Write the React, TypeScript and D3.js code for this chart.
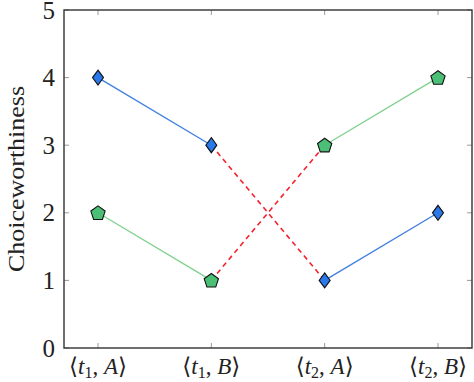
import React from "react";
import * as d3 from "d3";

const categories = [
  { t: "1", s: "A" },
  { t: "1", s: "B" },
  { t: "2", s: "A" },
  { t: "2", s: "B" },
];
const blueValues = [4, 3, 1, 2];
const greenValues = [2, 1, 3, 4];
const yTicks = [0, 1, 2, 3, 4, 5];
const yLabel = "Choiceworthiness";

const W = 474, H = 382;
const L = 64, R = 472, T = 10, B = 348;

export default function App() {
  const x = d3.scaleLinear().domain([-0.3, 3.3]).range([L, R]);
  const y = d3.scaleLinear().domain([0, 5]).range([B, T]);
  const line = d3.line<[number, number]>().x(d => x(d[0])).y(d => y(d[1]));
  const seg = (vals: number[], a: number, b: number) =>
    line([[a, vals[a]], [b, vals[b]]]) as string;
  const font = "'Liberation Serif', 'DejaVu Serif', serif";
  const blueLine = "#3f7fe0", blueFill = "#2a78ea";
  const greenLine = "#7fd18f", greenFill = "#4cbf76";
  const red = "#f5222d";
  const diamond = (cx: number, cy: number) =>
    `M${cx},${cy - 7.5}L${cx + 5.5},${cy}L${cx},${cy + 7.5}L${cx - 5.5},${cy}Z`;
  const pentagon = (cx: number, cy: number) => {
    const r = 7.5;
    const pts = d3.range(5).map(i => {
      const a = -Math.PI / 2 + (i * 2 * Math.PI) / 5;
      return [cx + r * Math.cos(a), cy + 0.6 + r * Math.sin(a)];
    });
    return "M" + pts.map(p => p.join(",")).join("L") + "Z";
  };
  return (
    <svg width={W} height={H} style={{ position: "absolute", left: 0, top: 0, background: "#fff" }}>
      {categories.map((_, i) => (
        <g key={"xt" + i} stroke="#9a9a9a" strokeWidth={1}>
          <line x1={x(i)} x2={x(i)} y1={B} y2={B - 5} />
          <line x1={x(i)} x2={x(i)} y1={T} y2={T + 5} />
        </g>
      ))}
      {yTicks.map(v => (
        <g key={"yt" + v} stroke="#9a9a9a" strokeWidth={1}>
          <line x1={L} x2={L + 5} y1={y(v)} y2={y(v)} />
          <line x1={R} x2={R - 5} y1={y(v)} y2={y(v)} />
        </g>
      ))}
      <path d={seg(blueValues, 0, 1)} stroke={blueLine} strokeWidth={1.3} fill="none" />
      <path d={seg(blueValues, 2, 3)} stroke={blueLine} strokeWidth={1.3} fill="none" />
      <path d={seg(greenValues, 0, 1)} stroke={greenLine} strokeWidth={1.3} fill="none" />
      <path d={seg(greenValues, 2, 3)} stroke={greenLine} strokeWidth={1.3} fill="none" />
      <path d={seg(blueValues, 1, 2)} stroke={red} strokeWidth={1.6} strokeDasharray="5,4" fill="none" />
      <path d={seg(greenValues, 1, 2)} stroke={red} strokeWidth={1.6} strokeDasharray="5,4" fill="none" />
      {blueValues.map((v, i) => (
        <path key={"b" + i} d={diamond(x(i), y(v))} fill={blueFill} stroke="#111" strokeWidth={1.1} />
      ))}
      {greenValues.map((v, i) => (
        <path key={"g" + i} d={pentagon(x(i), y(v))} fill={greenFill} stroke="#111" strokeWidth={1.1} />
      ))}
      <rect x={L} y={T} width={R - L} height={B - T} fill="none" stroke="#333" strokeWidth={1.4} />
      {yTicks.map(v => (
        <text key={"yl" + v} x={55} y={y(v) + 8.5} textAnchor="end" fontFamily={font} fontSize={25} fill="#222">
          {v}
        </text>
      ))}
      {categories.map((c, i) => (
        <text key={"xl" + i} x={x(i)} y={374} textAnchor="middle" fontFamily={font} fontSize={23} fill="#222">
          <tspan>⟨</tspan>
          <tspan fontStyle="italic">t</tspan>
          <tspan fontSize={16} dy={4}>{c.t}</tspan>
          <tspan dy={-4}>, </tspan>
          <tspan fontStyle="italic">{c.s}</tspan>
          <tspan>⟩</tspan>
        </text>
      ))}
      <text
        transform={`translate(24,${(T + B) / 2}) rotate(-90)`}
        textAnchor="middle"
        fontFamily={font}
        fontSize={24}
        fill="#222"
        textLength={186}
        lengthAdjust="spacingAndGlyphs"
      >
        {yLabel}
      </text>
    </svg>
  );
}
